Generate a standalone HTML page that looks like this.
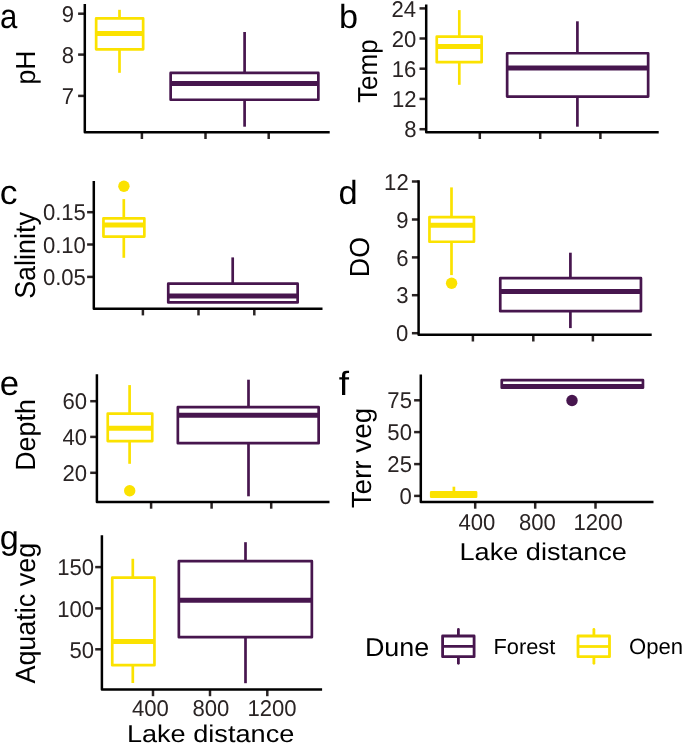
<!DOCTYPE html>
<html><head><meta charset="utf-8"><title>Lake distance boxplots</title>
<style>
html,body{margin:0;padding:0;background:#fff;}
body{width:685px;height:746px;overflow:hidden;}
svg{display:block;}
text{font-family:"Liberation Sans",Arial,Helvetica,sans-serif;text-rendering:geometricPrecision;}
.tk{font-size:22.1px;fill:#2A2424;}
.ti{font-size:27.5px;fill:#000;}
.pl{font-size:34.5px;fill:#000;}
.lg{font-size:22.1px;fill:#000;}
</style></head>
<body>
<svg width="685" height="746" viewBox="0 0 685 746">
<rect width="685" height="746" fill="#fff"/>
<line x1="78.1" y1="13.7" x2="84.8" y2="13.7" stroke="#2A2424" stroke-width="2.5"/>
<text transform="translate(61.65 21.95) scale(1 1.03)" class="tk">9</text>
<line x1="78.1" y1="54.6" x2="84.8" y2="54.6" stroke="#2A2424" stroke-width="2.5"/>
<text transform="translate(61.65 62.85) scale(1 1.03)" class="tk">8</text>
<line x1="78.1" y1="95.9" x2="84.8" y2="95.9" stroke="#2A2424" stroke-width="2.5"/>
<text transform="translate(61.65 104.15) scale(1 1.03)" class="tk">7</text>
<line x1="141.9" y1="132.3" x2="141.9" y2="139" stroke="#2A2424" stroke-width="2.5"/>
<line x1="205.5" y1="132.3" x2="205.5" y2="139" stroke="#2A2424" stroke-width="2.5"/>
<line x1="268.7" y1="132.3" x2="268.7" y2="139" stroke="#2A2424" stroke-width="2.5"/>
<line x1="119.5" y1="9.8" x2="119.5" y2="18.45" stroke="#FBE200" stroke-width="2.7" stroke-linecap="butt"/>
<line x1="119.5" y1="49.35" x2="119.5" y2="72.8" stroke="#FBE200" stroke-width="2.7" stroke-linecap="butt"/>
<rect x="96.15" y="18.45" width="47" height="30.9" fill="#fff" stroke="#FBE200" stroke-width="2.7" stroke-linejoin="round"/>
<line x1="96.15" y1="33.5" x2="143.15" y2="33.5" stroke="#FBE200" stroke-width="5.0"/>
<line x1="244.6" y1="32" x2="244.6" y2="72.95" stroke="#47164E" stroke-width="2.7" stroke-linecap="butt"/>
<line x1="244.6" y1="99.75" x2="244.6" y2="126.7" stroke="#47164E" stroke-width="2.7" stroke-linecap="butt"/>
<rect x="170.65" y="72.95" width="147.7" height="26.8" fill="#fff" stroke="#47164E" stroke-width="2.7" stroke-linejoin="round"/>
<line x1="170.65" y1="83.5" x2="318.35" y2="83.5" stroke="#47164E" stroke-width="5.0"/>
<path d="M84.8 4.1V132.3H329.7" fill="none" stroke="#000" stroke-width="2.5" stroke-linejoin="round"/>
<line x1="419.5" y1="8.4" x2="426.2" y2="8.4" stroke="#2A2424" stroke-width="2.5"/>
<text transform="translate(391.4 16.78) scale(1 1.03)" class="tk">24</text>
<line x1="419.5" y1="38.5" x2="426.2" y2="38.5" stroke="#2A2424" stroke-width="2.5"/>
<text transform="translate(391.65 46.75) scale(1 1.03)" class="tk">20</text>
<line x1="419.5" y1="68.7" x2="426.2" y2="68.7" stroke="#2A2424" stroke-width="2.5"/>
<text transform="translate(391.65 76.95) scale(1 1.03)" class="tk">16</text>
<line x1="419.5" y1="98.9" x2="426.2" y2="98.9" stroke="#2A2424" stroke-width="2.5"/>
<text transform="translate(391.9 107.28) scale(1 1.03)" class="tk">12</text>
<line x1="419.5" y1="129.2" x2="426.2" y2="129.2" stroke="#2A2424" stroke-width="2.5"/>
<text transform="translate(404.15 137.45) scale(1 1.03)" class="tk">8</text>
<line x1="479.8" y1="132.3" x2="479.8" y2="139" stroke="#2A2424" stroke-width="2.5"/>
<line x1="540.2" y1="132.3" x2="540.2" y2="139" stroke="#2A2424" stroke-width="2.5"/>
<line x1="600.4" y1="132.3" x2="600.4" y2="139" stroke="#2A2424" stroke-width="2.5"/>
<line x1="459.3" y1="10.1" x2="459.3" y2="36.65" stroke="#FBE200" stroke-width="2.7" stroke-linecap="butt"/>
<line x1="459.3" y1="62.15" x2="459.3" y2="84.8" stroke="#FBE200" stroke-width="2.7" stroke-linecap="butt"/>
<rect x="436.75" y="36.65" width="44.9" height="25.5" fill="#fff" stroke="#FBE200" stroke-width="2.7" stroke-linejoin="round"/>
<line x1="436.75" y1="46.6" x2="481.65" y2="46.6" stroke="#FBE200" stroke-width="5.0"/>
<line x1="577.4" y1="21.3" x2="577.4" y2="53.25" stroke="#47164E" stroke-width="2.7" stroke-linecap="butt"/>
<line x1="577.4" y1="96.55" x2="577.4" y2="126.7" stroke="#47164E" stroke-width="2.7" stroke-linecap="butt"/>
<rect x="507.15" y="53.25" width="141" height="43.3" fill="#fff" stroke="#47164E" stroke-width="2.7" stroke-linejoin="round"/>
<line x1="507.15" y1="68" x2="648.15" y2="68" stroke="#47164E" stroke-width="5.0"/>
<path d="M426.2 4.4V132.3H658.7" fill="none" stroke="#000" stroke-width="2.5" stroke-linejoin="round"/>
<line x1="87.1" y1="212.2" x2="93.8" y2="212.2" stroke="#2A2424" stroke-width="2.5"/>
<text transform="translate(42.9 220.45) scale(1 1.03)" class="tk">0.15</text>
<line x1="87.1" y1="244.5" x2="93.8" y2="244.5" stroke="#2A2424" stroke-width="2.5"/>
<text transform="translate(42.9 252.75) scale(1 1.03)" class="tk">0.10</text>
<line x1="87.1" y1="276.9" x2="93.8" y2="276.9" stroke="#2A2424" stroke-width="2.5"/>
<text transform="translate(42.9 285.15) scale(1 1.03)" class="tk">0.05</text>
<line x1="142.9" y1="308.7" x2="142.9" y2="315.4" stroke="#2A2424" stroke-width="2.5"/>
<line x1="198.5" y1="308.7" x2="198.5" y2="315.4" stroke="#2A2424" stroke-width="2.5"/>
<line x1="254.3" y1="308.7" x2="254.3" y2="315.4" stroke="#2A2424" stroke-width="2.5"/>
<line x1="123.8" y1="199.1" x2="123.8" y2="218.35" stroke="#FBE200" stroke-width="2.7" stroke-linecap="butt"/>
<line x1="123.8" y1="236.55" x2="123.8" y2="257.8" stroke="#FBE200" stroke-width="2.7" stroke-linecap="butt"/>
<rect x="103.45" y="218.35" width="40.9" height="18.2" fill="#fff" stroke="#FBE200" stroke-width="2.7" stroke-linejoin="round"/>
<line x1="103.45" y1="225.1" x2="144.35" y2="225.1" stroke="#FBE200" stroke-width="5.0"/>
<circle cx="123.9" cy="186.3" r="5.7" fill="#FBE200"/>
<line x1="232.7" y1="257.4" x2="232.7" y2="283.65" stroke="#47164E" stroke-width="2.7" stroke-linecap="butt"/>
<rect x="168.25" y="283.65" width="129.4" height="18.8" fill="#fff" stroke="#47164E" stroke-width="2.7" stroke-linejoin="round"/>
<line x1="168.25" y1="295.9" x2="297.65" y2="295.9" stroke="#47164E" stroke-width="5.0"/>
<path d="M93.8 181.1V308.7H322.5" fill="none" stroke="#000" stroke-width="2.5" stroke-linejoin="round"/>
<line x1="411.9" y1="181.5" x2="418.6" y2="181.5" stroke="#2A2424" stroke-width="2.5"/>
<text transform="translate(384.1 189.88) scale(1 1.03)" class="tk">12</text>
<line x1="411.9" y1="219.5" x2="418.6" y2="219.5" stroke="#2A2424" stroke-width="2.5"/>
<text transform="translate(396.35 227.75) scale(1 1.03)" class="tk">9</text>
<line x1="411.9" y1="257.4" x2="418.6" y2="257.4" stroke="#2A2424" stroke-width="2.5"/>
<text transform="translate(396.35 265.65) scale(1 1.03)" class="tk">6</text>
<line x1="411.9" y1="295.2" x2="418.6" y2="295.2" stroke="#2A2424" stroke-width="2.5"/>
<text transform="translate(396.35 303.45) scale(1 1.03)" class="tk">3</text>
<line x1="411.9" y1="333.2" x2="418.6" y2="333.2" stroke="#2A2424" stroke-width="2.5"/>
<text transform="translate(396.1 341.45) scale(1 1.03)" class="tk">0</text>
<line x1="472.9" y1="334.8" x2="472.9" y2="341.5" stroke="#2A2424" stroke-width="2.5"/>
<line x1="533.3" y1="334.8" x2="533.3" y2="341.5" stroke="#2A2424" stroke-width="2.5"/>
<line x1="592.9" y1="334.8" x2="592.9" y2="341.5" stroke="#2A2424" stroke-width="2.5"/>
<line x1="451.5" y1="187.4" x2="451.5" y2="217.15" stroke="#FBE200" stroke-width="2.7" stroke-linecap="butt"/>
<line x1="451.5" y1="241.75" x2="451.5" y2="275.1" stroke="#FBE200" stroke-width="2.7" stroke-linecap="butt"/>
<rect x="429.45" y="217.15" width="44.5" height="24.6" fill="#fff" stroke="#FBE200" stroke-width="2.7" stroke-linejoin="round"/>
<line x1="429.45" y1="225.3" x2="473.95" y2="225.3" stroke="#FBE200" stroke-width="5.0"/>
<circle cx="451.6" cy="283.2" r="5.7" fill="#FBE200"/>
<line x1="570.4" y1="252.7" x2="570.4" y2="278.15" stroke="#47164E" stroke-width="2.7" stroke-linecap="butt"/>
<line x1="570.4" y1="311.15" x2="570.4" y2="328.1" stroke="#47164E" stroke-width="2.7" stroke-linecap="butt"/>
<rect x="500.25" y="278.15" width="140.7" height="33" fill="#fff" stroke="#47164E" stroke-width="2.7" stroke-linejoin="round"/>
<line x1="500.25" y1="291.5" x2="640.95" y2="291.5" stroke="#47164E" stroke-width="5.0"/>
<path d="M418.6 180.3V334.8H651.7" fill="none" stroke="#000" stroke-width="2.5" stroke-linejoin="round"/>
<line x1="90.2" y1="401.2" x2="96.9" y2="401.2" stroke="#2A2424" stroke-width="2.5"/>
<text transform="translate(62.55 409.45) scale(1 1.03)" class="tk">60</text>
<line x1="90.2" y1="436.9" x2="96.9" y2="436.9" stroke="#2A2424" stroke-width="2.5"/>
<text transform="translate(62.55 445.15) scale(1 1.03)" class="tk">40</text>
<line x1="90.2" y1="472.8" x2="96.9" y2="472.8" stroke="#2A2424" stroke-width="2.5"/>
<text transform="translate(62.55 481.05) scale(1 1.03)" class="tk">20</text>
<line x1="151.1" y1="502" x2="151.1" y2="508.7" stroke="#2A2424" stroke-width="2.5"/>
<line x1="211.6" y1="502" x2="211.6" y2="508.7" stroke="#2A2424" stroke-width="2.5"/>
<line x1="271.2" y1="502" x2="271.2" y2="508.7" stroke="#2A2424" stroke-width="2.5"/>
<line x1="129.6" y1="385.1" x2="129.6" y2="413.55" stroke="#FBE200" stroke-width="2.7" stroke-linecap="butt"/>
<line x1="129.6" y1="441.05" x2="129.6" y2="463.8" stroke="#FBE200" stroke-width="2.7" stroke-linecap="butt"/>
<rect x="107.75" y="413.55" width="44.5" height="27.5" fill="#fff" stroke="#FBE200" stroke-width="2.7" stroke-linejoin="round"/>
<line x1="107.75" y1="428.2" x2="152.25" y2="428.2" stroke="#FBE200" stroke-width="5.0"/>
<circle cx="129.7" cy="490.7" r="5.7" fill="#FBE200"/>
<line x1="248.5" y1="379.7" x2="248.5" y2="407.15" stroke="#47164E" stroke-width="2.7" stroke-linecap="butt"/>
<line x1="248.5" y1="443.15" x2="248.5" y2="496.3" stroke="#47164E" stroke-width="2.7" stroke-linecap="butt"/>
<rect x="177.85" y="407.15" width="140.8" height="36" fill="#fff" stroke="#47164E" stroke-width="2.7" stroke-linejoin="round"/>
<line x1="177.85" y1="415.3" x2="318.65" y2="415.3" stroke="#47164E" stroke-width="5.0"/>
<path d="M96.9 374.2V502H329.5" fill="none" stroke="#000" stroke-width="2.5" stroke-linejoin="round"/>
<line x1="414.1" y1="400.3" x2="420.8" y2="400.3" stroke="#2A2424" stroke-width="2.5"/>
<text transform="translate(387.35 408.43) scale(1 1.03)" class="tk">75</text>
<line x1="414.1" y1="432.1" x2="420.8" y2="432.1" stroke="#2A2424" stroke-width="2.5"/>
<text transform="translate(387.35 440.35) scale(1 1.03)" class="tk">50</text>
<line x1="414.1" y1="464.1" x2="420.8" y2="464.1" stroke="#2A2424" stroke-width="2.5"/>
<text transform="translate(387.35 472.35) scale(1 1.03)" class="tk">25</text>
<line x1="414.1" y1="495.9" x2="420.8" y2="495.9" stroke="#2A2424" stroke-width="2.5"/>
<text transform="translate(399.6 504.15) scale(1 1.03)" class="tk">0</text>
<line x1="475.2" y1="502" x2="475.2" y2="508.7" stroke="#2A2424" stroke-width="2.5"/>
<line x1="535.2" y1="502" x2="535.2" y2="508.7" stroke="#2A2424" stroke-width="2.5"/>
<line x1="595.5" y1="502" x2="595.5" y2="508.7" stroke="#2A2424" stroke-width="2.5"/>
<text transform="translate(458.55 530.25) scale(1 1.03)" class="tk">400</text>
<text transform="translate(518.9 530.25) scale(1 1.03)" class="tk">800</text>
<text transform="translate(573.55 530.25) scale(1 1.03)" class="tk">1200</text>
<line x1="453.9" y1="486.7" x2="453.9" y2="492.25" stroke="#FBE200" stroke-width="2.7" stroke-linecap="butt"/>
<rect x="431.25" y="492.25" width="44.8" height="4.5" fill="#fff" stroke="#FBE200" stroke-width="2.7" stroke-linejoin="round"/>
<line x1="431.25" y1="494.5" x2="476.05" y2="494.5" stroke="#FBE200" stroke-width="5.0"/>
<rect x="501.75" y="380.05" width="141.2" height="7.7" fill="#fff" stroke="#47164E" stroke-width="2.7" stroke-linejoin="round"/>
<line x1="501.75" y1="386.5" x2="642.95" y2="386.5" stroke="#47164E" stroke-width="5.0"/>
<circle cx="572" cy="400.5" r="5.7" fill="#47164E"/>
<path d="M420.8 374.6V502H653.5" fill="none" stroke="#000" stroke-width="2.5" stroke-linejoin="round"/>
<line x1="95.2" y1="567.1" x2="101.9" y2="567.1" stroke="#2A2424" stroke-width="2.5"/>
<text transform="translate(57.2 575.35) scale(1 1.03)" class="tk">150</text>
<line x1="95.2" y1="608.4" x2="101.9" y2="608.4" stroke="#2A2424" stroke-width="2.5"/>
<text transform="translate(57.2 616.65) scale(1 1.03)" class="tk">100</text>
<line x1="95.2" y1="649.3" x2="101.9" y2="649.3" stroke="#2A2424" stroke-width="2.5"/>
<text transform="translate(69.45 657.55) scale(1 1.03)" class="tk">50</text>
<line x1="153" y1="689.5" x2="153" y2="696.2" stroke="#2A2424" stroke-width="2.5"/>
<line x1="210" y1="689.5" x2="210" y2="696.2" stroke="#2A2424" stroke-width="2.5"/>
<line x1="267.3" y1="689.5" x2="267.3" y2="696.2" stroke="#2A2424" stroke-width="2.5"/>
<text transform="translate(132 716.15) scale(1 1.03)" class="tk">400</text>
<text transform="translate(192.45 716.15) scale(1 1.03)" class="tk">800</text>
<text transform="translate(247.5 716.15) scale(1 1.03)" class="tk">1200</text>
<line x1="132.8" y1="558.8" x2="132.8" y2="577.65" stroke="#FBE200" stroke-width="2.7" stroke-linecap="butt"/>
<line x1="132.8" y1="665.15" x2="132.8" y2="683" stroke="#FBE200" stroke-width="2.7" stroke-linecap="butt"/>
<rect x="112.25" y="577.65" width="42.2" height="87.5" fill="#fff" stroke="#FBE200" stroke-width="2.7" stroke-linejoin="round"/>
<line x1="112.25" y1="641.5" x2="154.45" y2="641.5" stroke="#FBE200" stroke-width="5.0"/>
<line x1="245.5" y1="542.2" x2="245.5" y2="561.15" stroke="#47164E" stroke-width="2.7" stroke-linecap="butt"/>
<line x1="245.5" y1="637.15" x2="245.5" y2="683.2" stroke="#47164E" stroke-width="2.7" stroke-linecap="butt"/>
<rect x="178.85" y="561.15" width="133" height="76" fill="#fff" stroke="#47164E" stroke-width="2.7" stroke-linejoin="round"/>
<line x1="178.85" y1="600.2" x2="311.85" y2="600.2" stroke="#47164E" stroke-width="5.0"/>
<path d="M101.9 535.2V689.5H322.1" fill="none" stroke="#000" stroke-width="2.5" stroke-linejoin="round"/>
<text transform="translate(0.02 27.85) scale(0.9031 0.9973)" class="pl">a</text>
<text transform="translate(339.06 27.76) scale(0.9935 0.9703)" class="pl">b</text>
<text transform="translate(-0.15 204.15) scale(1.0305 0.9813)" class="pl">c</text>
<text transform="translate(338.4 203.86) scale(1.0000 0.9703)" class="pl">d</text>
<text transform="translate(-0.21 395.35) scale(1.0092 0.9973)" class="pl">e</text>
<text transform="translate(338.76 394.5) scale(1.0703 0.9760)" class="pl">f</text>
<text transform="translate(-0.29 548.8) scale(0.9935 0.9786)" class="pl">g</text>
<text transform="translate(364.9 655.56) scale(0.9799 0.9403)" class="ti">Dune</text>
<text transform="translate(493.47 653.95) scale(0.9860 0.9806)" class="lg">Forest</text>
<text transform="translate(629.1 654.1) scale(1.0000 1.0000)" class="lg">Open</text>
<text transform="translate(459.48 560.08) scale(0.9865 0.8840)" class="ti">Lake distance</text>
<text transform="translate(126.88 741.88) scale(0.9865 0.8840)" class="ti">Lake distance</text>
<text transform="translate(34.9 84.49) rotate(-90) scale(0.9664 1.0000)" class="ti">pH</text>
<text transform="translate(376.6 102.87) rotate(-90) scale(0.9450 1.0000)" class="ti">Temp</text>
<text transform="translate(35 298.82) rotate(-90) scale(0.9777 1.0421)" class="ti">Salinity</text>
<text transform="translate(368.7 277.19) rotate(-90) scale(0.9748 1.0053)" class="ti">DO</text>
<text transform="translate(35.1 470.8) rotate(-90) scale(0.9776 1.0105)" class="ti">Depth</text>
<text transform="translate(371 508.31) rotate(-90) scale(1.0124 1.0105)" class="ti">Terr veg</text>
<text transform="translate(35.1 683.6) rotate(-90) scale(0.9803 1.0158)" class="ti">Aquatic veg</text>
<line x1="458.4" y1="629.4" x2="458.4" y2="636" stroke="#47164E" stroke-width="2.8" stroke-linecap="round"/>
<line x1="458.4" y1="656.7" x2="458.4" y2="663.3" stroke="#47164E" stroke-width="2.8" stroke-linecap="round"/>
<rect x="442.6" y="636" width="31.5" height="20.7" fill="#fff" stroke="#47164E" stroke-width="2.8" stroke-linejoin="round"/>
<line x1="442.6" y1="646.4" x2="474.1" y2="646.4" stroke="#47164E" stroke-width="2.8"/>
<line x1="593.9" y1="629.4" x2="593.9" y2="636" stroke="#FBE200" stroke-width="2.8" stroke-linecap="round"/>
<line x1="593.9" y1="656.7" x2="593.9" y2="663.3" stroke="#FBE200" stroke-width="2.8" stroke-linecap="round"/>
<rect x="578" y="636" width="31.5" height="20.7" fill="#fff" stroke="#FBE200" stroke-width="2.8" stroke-linejoin="round"/>
<line x1="578" y1="646.5" x2="609.5" y2="646.5" stroke="#FBE200" stroke-width="2.8"/>
</svg>
</body></html>
